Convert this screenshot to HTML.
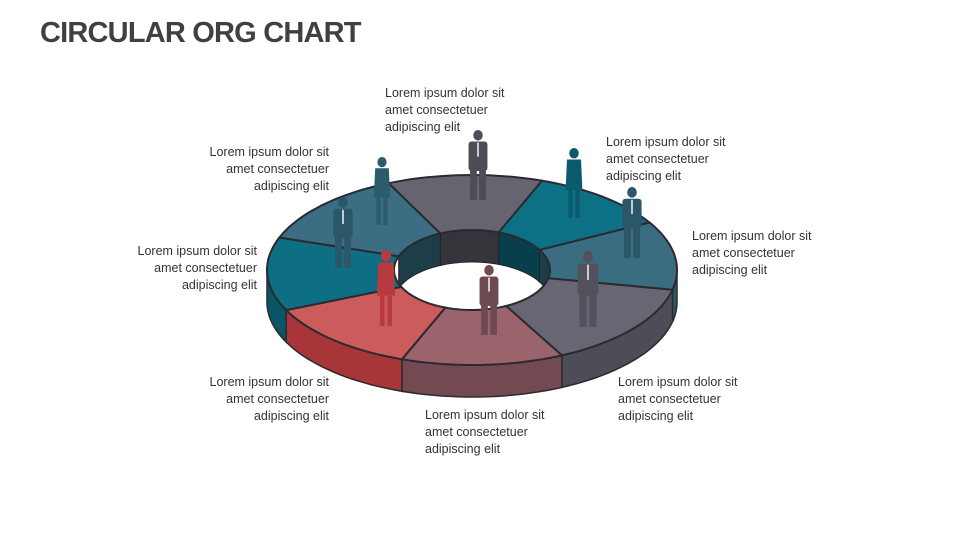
<!DOCTYPE html>
<html><head><meta charset="utf-8"><style>
body{margin:0;background:#fff;}
#w{position:relative;width:960px;height:540px;overflow:hidden;font-family:"Liberation Sans",sans-serif;}
h1{position:absolute;left:40px;top:17px;margin:0;font-size:29px;font-weight:bold;color:#404040;letter-spacing:-0.8px;}
.t{position:absolute;font-size:12.5px;line-height:17px;color:#333;white-space:nowrap;}
.r{text-align:right;}
</style></head><body><div id="w">
<h1>CIRCULAR ORG CHART</h1>
<svg id="s" width="960" height="540" style="position:absolute;left:0;top:0"></svg>
<div class="t" style="left:385px;top:85px">Lorem ipsum dolor sit<br>amet consectetuer<br>adipiscing elit</div>
<div class="t r" style="right:631px;top:144px">Lorem ipsum dolor sit<br>amet consectetuer<br>adipiscing elit</div>
<div class="t" style="left:606px;top:134px">Lorem ipsum dolor sit<br>amet consectetuer<br>adipiscing elit</div>
<div class="t" style="left:692px;top:228px">Lorem ipsum dolor sit<br>amet consectetuer<br>adipiscing elit</div>
<div class="t r" style="right:703px;top:243px">Lorem ipsum dolor sit<br>amet consectetuer<br>adipiscing elit</div>
<div class="t r" style="right:631px;top:374px">Lorem ipsum dolor sit<br>amet consectetuer<br>adipiscing elit</div>
<div class="t" style="left:425px;top:407px">Lorem ipsum dolor sit<br>amet consectetuer<br>adipiscing elit</div>
<div class="t" style="left:618px;top:374px">Lorem ipsum dolor sit<br>amet consectetuer<br>adipiscing elit</div>
</div>
<script>
var cx=472,cy=270,R=205,RY=95,r=78,ry=40,T=32;
var segs=[[-114,-70,'#66656f','#4d4c57','#35343a'],[-70,-30,'#0d7186','#0a5566','#07404c'],[-30,12,'#3a6d80','#2e5868','#1d3d49'],
[12,64,'#686673','#4d4c57','#35343a'],[64,110,'#9b636c','#744a52','#5a3a40'],[110,155,'#cc5c5c','#a83538','#7a2a2a'],
[155,200,'#0e6f84','#0a5566','#07404c'],[200,246,'#3b6e82','#2e5868','#1d3d49']];
function P(a,rx,ryy,dy){a=a*Math.PI/180;return (cx+rx*Math.cos(a)).toFixed(1)+','+(cy+ryy*Math.sin(a)+(dy||0)).toFixed(1);}
function arc(a0,a1,rx,ryy,dy){var s=[];var n=20;for(var i=0;i<=n;i++)s.push(P(a0+(a1-a0)*i/n,rx,ryy,dy));return s;}
var h='<defs><clipPath id="hc"><ellipse cx="'+cx+'" cy="'+cy+'" rx="'+r+'" ry="'+ry+'"/></clipPath></defs>';
segs.forEach(function(g){var a0=Math.max(g[0],0),a1=Math.min(g[1],180);if(a1<=a0)return;
var p=arc(a0,a1,R,RY).concat(arc(a1,a0,R,RY,T));h+='<polygon points="'+p.join(' ')+'" fill="'+g[3]+'" stroke="#2a2a30" stroke-width="1.5"/>';});
h+='<ellipse cx="'+cx+'" cy="'+cy+'" rx="'+r+'" ry="'+ry+'" fill="#fff"/>';
segs.forEach(function(g){var a0=g[0],a1=g[1];var lo=Math.max(a0,-180),hi=Math.min(a1,0);
if(a0>=180){lo=a0-360;hi=a1-360;}if(hi<=lo)return;
var p=arc(lo,hi,r,ry).concat(arc(hi,lo,r,ry,T));h+='<polygon clip-path="url(#hc)" points="'+p.join(' ')+'" fill="'+g[4]+'" stroke="#222" stroke-width="1"/>';});
segs.forEach(function(g){var p=arc(g[0],g[1],R,RY).concat(arc(g[1],g[0],r,ry));
h+='<polygon points="'+p.join(' ')+'" fill="'+g[2]+'" stroke="#2a2a30" stroke-width="2"/>';});
function man(x,top,hh,c){var hr=hh*0.075,w=hh*0.27;var s='<g fill="'+c+'">';
s+='<ellipse cx="'+x+'" cy="'+(top+hr)+'" rx="'+hr*0.9+'" ry="'+hr+'"/>';
s+='<rect x="'+(x-w/2)+'" y="'+(top+hr*2.2)+'" width="'+w+'" height="'+hh*0.42+'" rx="3"/>';
s+='<rect x="'+(x-w*0.42)+'" y="'+(top+hh*0.5)+'" width="'+w*0.36+'" height="'+hh*0.5+'"/>';
s+='<rect x="'+(x+w*0.06)+'" y="'+(top+hh*0.5)+'" width="'+w*0.36+'" height="'+hh*0.5+'"/>';
s+='<rect x="'+(x-1)+'" y="'+(top+hr*2.4)+'" width="2" height="'+hh*0.2+'" fill="#fff" opacity="0.7"/></g>';return s;}
function wom(x,top,hh,c){var hr=hh*0.075;var s='<g fill="'+c+'">';
s+='<ellipse cx="'+x+'" cy="'+(top+hr)+'" rx="'+hr*0.9+'" ry="'+hr+'"/>';
s+='<polygon points="'+(x-hh*0.1)+','+(top+hr*2.2)+' '+(x+hh*0.1)+','+(top+hr*2.2)+' '+(x+hh*0.12)+','+(top+hh*0.6)+' '+(x-hh*0.12)+','+(top+hh*0.6)+'"/>';
s+='<rect x="'+(x-hh*0.08)+'" y="'+(top+hh*0.6)+'" width="'+hh*0.06+'" height="'+hh*0.4+'"/>';
s+='<rect x="'+(x+hh*0.02)+'" y="'+(top+hh*0.6)+'" width="'+hh*0.06+'" height="'+hh*0.4+'"/></g>';return s;}
h+=man(478,130,70,'#4e4d57');
h+=wom(382,157,68,'#2c5c6c');
h+=man(343,197,71,'#2c5768');
h+=wom(574,148,70,'#0b5a6c');
h+=man(632,187,71,'#2c5768');
h+=man(588,251,76,'#53525c');
h+=wom(386,250,76,'#b83a3e');
h+=man(489,265,70,'#6e4a52');
document.getElementById('s').innerHTML=h;
</script>
</body></html>
